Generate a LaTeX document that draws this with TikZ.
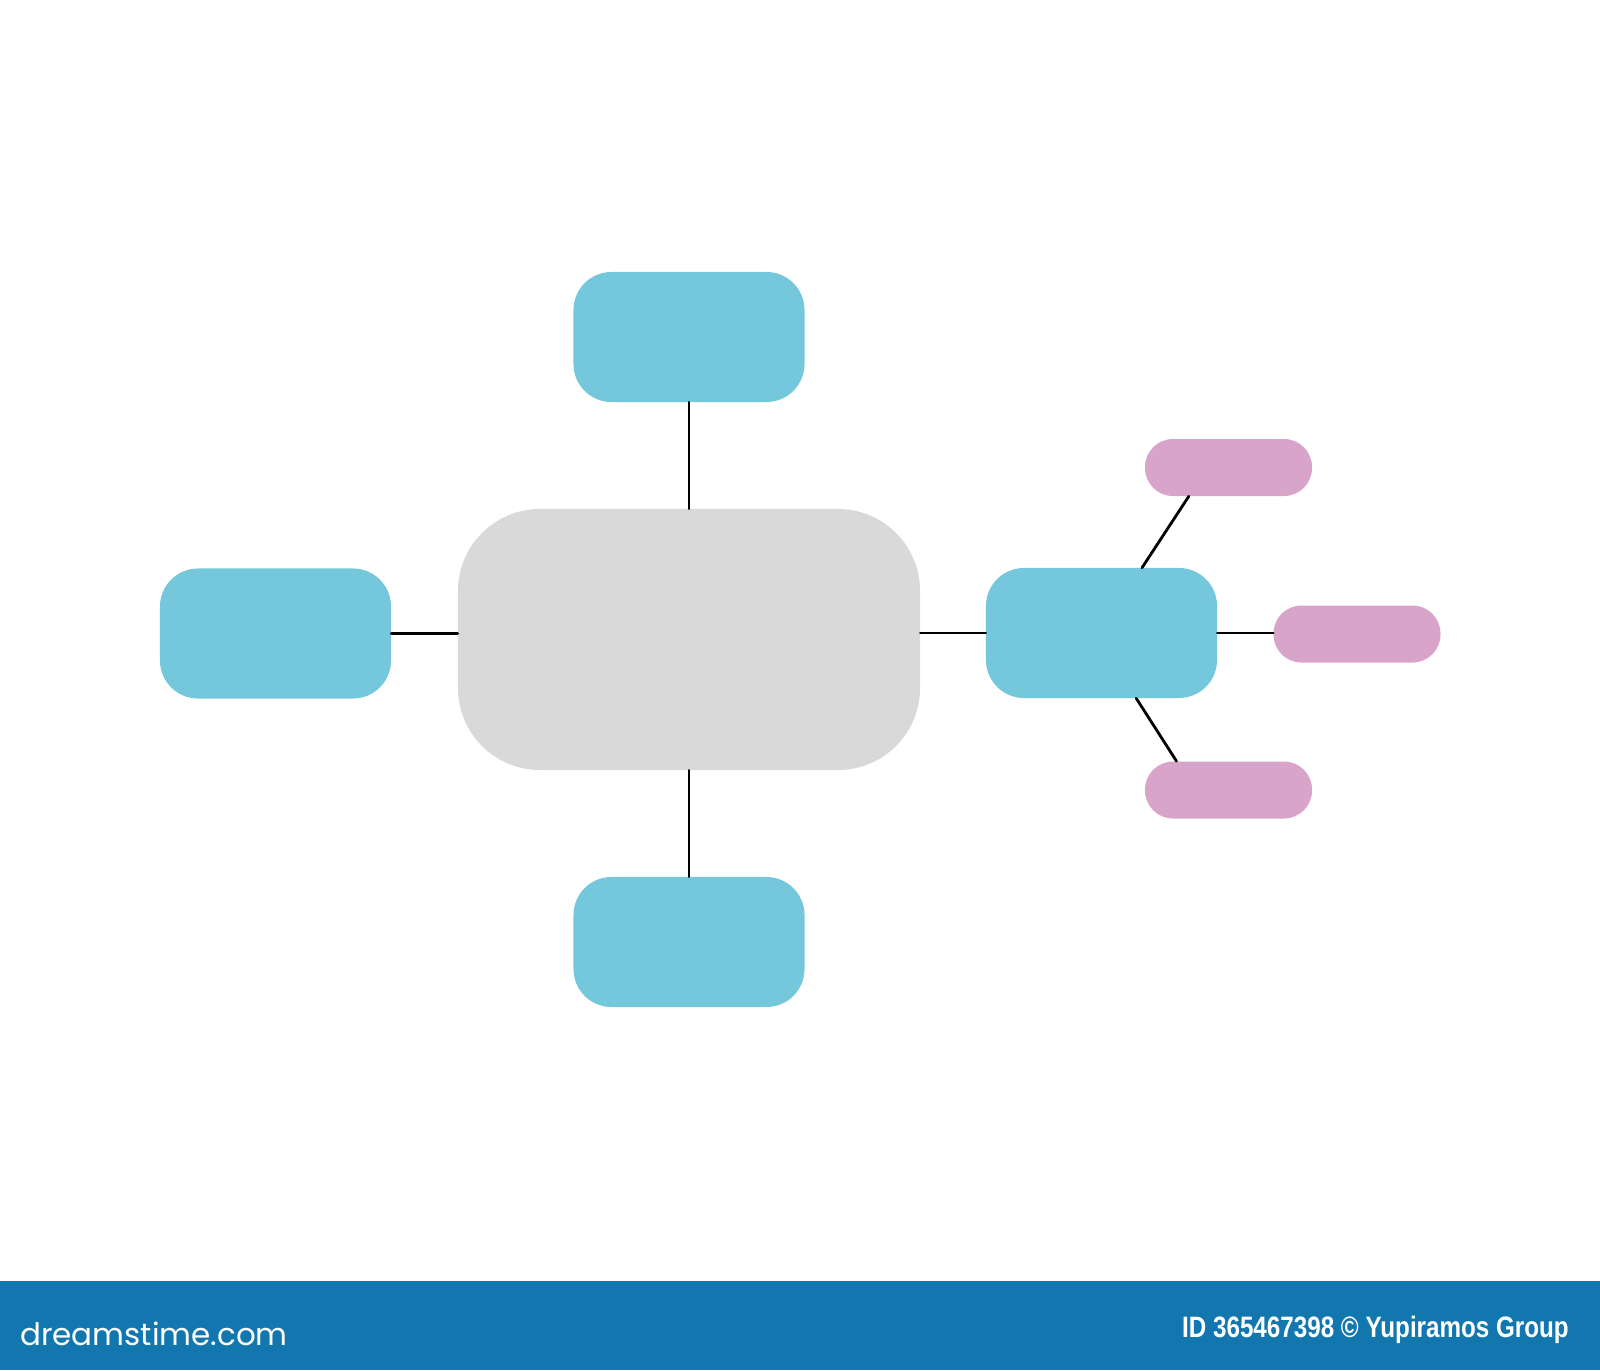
\documentclass[tikz,border=0pt]{standalone}
\usepackage{fontspec}
\setmainfont{Liberation Sans}
\newfontfamily\logofont{Poppins}
\usetikzlibrary{positioning,calc}
\definecolor{boxblue}{HTML}{75C8DB}
\definecolor{boxgray}{HTML}{D9D9D9}
\definecolor{boxpink}{HTML}{D8A4CA}
\definecolor{bandblue}{HTML}{1177AE}
\begin{document}
\begin{tikzpicture}[x=0.025cm, y=-0.025cm, line join=round, line cap=round,
    bigbox/.style={fill=boxgray, rounded corners=2.05cm, minimum width=11.55cm, minimum height=6.525cm, inner sep=0pt},
    midbox/.style={fill=boxblue, rounded corners=0.95cm, minimum width=5.775cm, minimum height=3.25cm, inner sep=0pt},
    smallbox/.style={fill=boxpink, rounded corners=0.7cm, minimum width=4.175cm, minimum height=1.425cm, inner sep=0pt},
    link/.style={draw=black, line width=2pt}]
    \useasboundingbox (0,0) rectangle (1600,1370);
    % cac khung
    \node[bigbox] (centre) at (689,639.5) {};
    \node[midbox] (top) at (689,337) {};
    \node[midbox] (bottom) at (689,942) {};
    \node[midbox] (left) at (275.5,633.5) {};
    \node[midbox] (right) at (1101.5,633) {};
    \node[smallbox] (p1) at (1228.5,467.5) {};
    \node[smallbox] (p2) at (1357,634) {};
    \node[smallbox] (p3) at (1228.5,790) {};
    % duong noi
    \draw[link] (top) -- (centre);
    \draw[link] (centre) -- (bottom);
    \draw[link] (left.east) -- (left.east -| centre.west);
    \draw[link] (centre.east |- right.west) -- (right.west);
    \draw[link] (right.east) -- (right.east -| p2.west);
    \draw[link] ($(right.north west)!0.675!(right.north east)$) -- ($(p1.south west)!0.263!(p1.south east)$);
    \draw[link] ($(right.south west)!0.65!(right.south east)$) -- ($(p3.north west)!0.19!(p3.north east)$);
    % dai duoi
    \fill[bandblue] (0,1281) rectangle (1600,1370);
    \node[text=white, font=\logofont\fontsize{22}{22}\selectfont, anchor=base west, inner sep=0pt] (logo) at (20,1345) {dreamstime.com};
    \node[text=white, font=\bfseries\fontsize{21}{21}\selectfont, anchor=base east, inner sep=0pt, xscale=0.82, transform shape] (credit) at (1569,1337) {ID 365467398 © Yupiramos Group};
\end{tikzpicture}
\end{document}
